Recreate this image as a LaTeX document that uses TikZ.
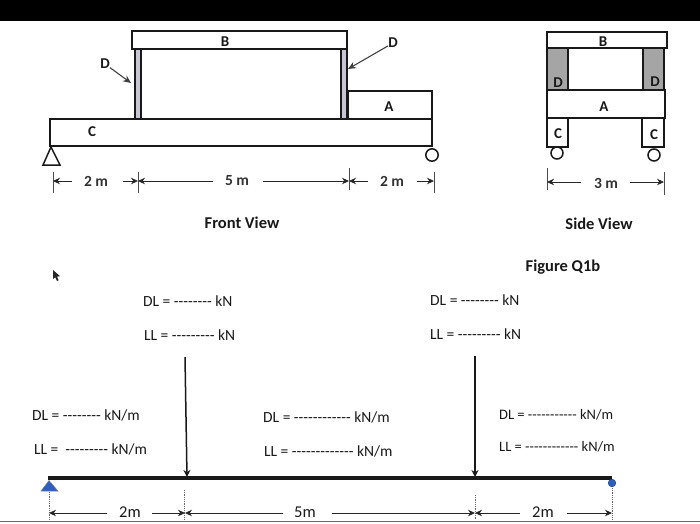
\documentclass[tikz,border=0pt]{standalone}
\usepackage{fontspec}
\usepackage{tikz}
\usetikzlibrary{arrows.meta}
\newfontfamily\figfont{Carlito}
\definecolor{postlight}{RGB}{200,198,210}
\definecolor{postgray}{RGB}{165,165,165}
\definecolor{pinblue}{RGB}{45,95,190}

\begin{document}
\begin{tikzpicture}[x=1pt, y=-1pt,
				   part/.style={draw=black!90, line width=1.5pt, fill=white},
				   partlabel/.style={font=\figfont\bfseries\fontsize{15}{15}\selectfont, inner sep=0pt, text=black!90},
				   titlelabel/.style={font=\figfont\bfseries\fontsize{16.5}{16.5}\selectfont, inner sep=0pt, text=black!90},
				   dimlabel/.style={font=\figfont\bfseries\fontsize{15.5}{15.5}\selectfont, inner sep=0pt, text=black!80},
				   loadlabel/.style={font=\figfont\fontsize{15.5}{15.5}\selectfont, inner sep=0pt, anchor=west, text=black!90},
				   smalllabel/.style={font=\figfont\fontsize{14.5}{14.5}\selectfont, inner sep=0pt, anchor=west, text=black!90},
				   spanlabel/.style={font=\figfont\fontsize{16.5}{16.5}\selectfont, inner sep=0pt, text=black!90},
				   dimline/.style={-{Stealth[length=7pt, width=6.5pt]}, line width=0.9pt, black!85},
				   dimtick/.style={line width=0.8pt, black!70},
				   dimdots/.style={densely dotted, line width=0.8pt, black!60},
				   pointer/.style={-{Stealth[length=8pt, width=7pt]}, line width=1.1pt, black!75},
				   force/.style={-{Stealth[length=7pt, width=7pt]}, line width=1.5pt, black!90}]
\useasboundingbox (0,0) rectangle (700,523);
\fill[black] (0,0) rectangle (700,21);
\draw[black!60, line width=0.8pt] (0,521.5) -- (700,521.5);
% front view
\draw[part] (50,119) rectangle (432,146);
\draw[part] (348,91) rectangle (432,119);
\draw[part, fill=postlight] (135,49) rectangle (141,119);
\draw[part, fill=postlight] (341,49) rectangle (347,119);
\draw[part] (132,31) rectangle (347,49);
\draw[part] (51,147) -- (60,165) -- (43,165) -- cycle;
\draw[part] (432,155) circle (6.2);
\node[partlabel] (fB) at (225,42) {B};
\node[partlabel] (fA) at (389,107) {A};
\node[partlabel] (fC) at (92,132) {C};
\node[partlabel] (fDl) at (105,64) {D};
\node[partlabel] (fDr) at (393,43) {D};
\coordinate (fDlend) at (131,83);
\coordinate (fDrend) at (348,69);
\draw[pointer] (fDl) -- (fDlend);
\draw[pointer] (fDr) -- (fDrend);
% front view dimensions
\coordinate (t1) at (53,181);
\coordinate (t2) at (138,181);
\coordinate (t3) at (349,181);
\coordinate (t4) at (434,181);
\draw[dimtick] (53,172) -- (53,193) (138,172) -- (138,193) (349,168) -- (349,190) (434,172) -- (434,193);
\node[dimlabel] (d1) at (96,181) {2 m};
\node[dimlabel] (d2) at (237,181) {5 m};
\node[dimlabel] (d3) at (392,181) {2 m};
\draw[dimline] (72,181) -- (t1);
\draw[dimline] (123,181) -- (t2);
\draw[dimline] (213,181) -- (t2);
\draw[dimline] (263,181) -- (t3);
\draw[dimline] (368,181) -- (t3);
\draw[dimline] (417,181) -- (t4);
\node[titlelabel] (front) at (242,223) {Front View};
% side view
\draw[part] (557,153) circle (6);
\draw[part] (654,155) circle (6);
\draw[part, fill=postgray] (547,48) rectangle (568,90);
\draw[part, fill=postgray] (643,48) rectangle (664,90);
\draw[part] (547,32) rectangle (667,48);
\draw[part] (547,90) rectangle (665,118);
\draw[part] (547,118) rectangle (568,147);
\draw[part] (642,118) rectangle (664,147);
\node[partlabel] (sB) at (603,42) {B};
\node[partlabel] (sA) at (604,107) {A};
\node[partlabel] (sCl) at (558,134) {C};
\node[partlabel] (sCr) at (654,135) {C};
\node[partlabel] (sDl) at (558,83) {D};
\node[partlabel] (sDr) at (655,82) {D};
\coordinate (s1) at (547,182);
\coordinate (s2) at (664,182);
\draw[dimtick] (547,168) -- (547,190) (664,172) -- (664,195);
\node[dimlabel] (d4) at (606,183) {3 m};
\draw[dimline] (581,182) -- (s1);
\draw[dimline] (630,182) -- (s2);
\node[titlelabel] (side) at (599,224) {Side View};
\node[titlelabel] (figq) at (563,267) {Figure Q1b};
% cursor
\fill[black!85] (53,270) -- (53,279) -- (55.3,277.3) -- (57,281) -- (58.6,280.2) -- (57,276.6) -- (60,276.2) -- cycle;
% beam model
\coordinate (pinL) at (48,478);
\coordinate (pinR) at (612,478);
\coordinate (P1) at (187,477);
\coordinate (P2) at (475,477);
\coordinate (P1top) at (185,357);
\coordinate (P2top) at (475,356);
\draw[black!90, line width=3.6pt] (pinL) -- (pinR);
\draw[force] (P1top) -- (P1);
\draw[force] (P2top) -- (P2);
\draw[fill=pinblue, draw=black!50, line width=0.5pt] (49,480.5) -- (58,491) -- (41,491) -- cycle;
\draw[fill=pinblue, draw=pinblue!70!black, line width=0.5pt] (612,483) circle (3.8);
\draw[dimdots] (49,492) -- (49,520) (184,490) -- (184,520) (475,495) -- (475,520) (612,488) -- (612,520);
\node[loadlabel] (l1) at (143,301) {DL = {-}{-}{-}{-}{-}{-}{-}{-} kN};
\node[loadlabel] (l2) at (144,335) {LL = {-}{-}{-}{-}{-}{-}{-}{-}{-} kN};
\node[loadlabel] (l3) at (430,300) {DL = {-}{-}{-}{-}{-}{-}{-}{-} kN};
\node[loadlabel] (l4) at (430,334) {LL = {-}{-}{-}{-}{-}{-}{-}{-}{-} kN};
\node[loadlabel] (l5) at (32,415) {DL = {-}{-}{-}{-}{-}{-}{-}{-} kN/m};
\node[loadlabel] (l6) at (34,449) {LL =\ \ {-}{-}{-}{-}{-}{-}{-}{-}{-} kN/m};
\node[loadlabel] (l7) at (263,417) {DL = {-}{-}{-}{-}{-}{-}{-}{-}{-}{-}{-}{-} kN/m};
\node[loadlabel] (l8) at (264,451) {LL = {-}{-}{-}{-}{-}{-}{-}{-}{-}{-}{-}{-}{-} kN/m};
\node[smalllabel] (l9) at (499,415) {DL = {-}{-}{-}{-}{-}{-}{-}{-}{-}{-}{-} kN/m};
\node[smalllabel] (l10) at (499,447) {LL = {-}{-}{-}{-}{-}{-}{-}{-}{-}{-}{-}{-} kN/m};
% beam dimensions
\coordinate (b1) at (49,513);
\coordinate (b2) at (185,513);
\coordinate (b3) at (475,513);
\coordinate (b4) at (612,513);
\node[spanlabel] (d5) at (130,512) {2m};
\node[spanlabel] (d6) at (305,512) {5m};
\node[spanlabel] (d7) at (543,512) {2m};
\draw[dimline] (107,513) -- (b1);
\draw[dimline] (152,513) -- (b2);
\draw[dimline] (283,513) -- (b2);
\draw[dimline] (332,513) -- (b3);
\draw[dimline] (520,513) -- (b3);
\draw[dimline] (567,513) -- (b4);
\end{tikzpicture}
\end{document}
